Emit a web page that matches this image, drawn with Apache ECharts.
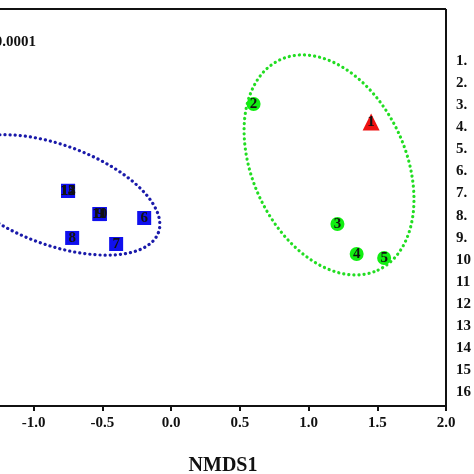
<!DOCTYPE html>
<html><head><meta charset="utf-8">
<script src="https://cdn.jsdelivr.net/npm/echarts@6/dist/echarts.min.js"></script>
<style>html,body{margin:0;padding:0;background:#fff}#c{width:474px;height:474px}</style>
</head><body><div id="c"></div>
<script>
const xTicks=[-1.0,-0.5,0.0,0.5,1.0,1.5,2.0];
const triNames=['1'];
const triX=[1.455];
const triY=[0.815];
const circNames=['2','3','4','5'];
const circX=[0.60,1.21,1.35,1.55];
const circY=[0.946,0.074,-0.145,-0.174];
const sqNames=['6','7','8','9','10','11','12','13','14','15'];
const sqX=[-0.196,-0.40,-0.72,-0.52,-0.52,-0.52,-0.75,-0.75,-0.75,-0.75];
const sqY=[0.117,-0.072,-0.028,0.146,0.146,0.146,0.314,0.314,0.314,0.314];
const legendItems=['1.','2.','3.','4.','5.','6.','7.','8.','9.','10','11','12','13','14','15','16'];
// ellipses: [cx, cy, semi-major, semi-minor, angle deg]
const greenEllipse=[1.149,0.503,0.844,0.557,-65];
const blueEllipse=[-0.844,0.285,0.80,0.364,-20];
const labelOffsets={'1':[-12,-9],'2':[18,-8],'3':[10,-14],'4':[-14,0],'5':[14,-10],'6':[-12,-9],'7':[13,-3],'8':[-13,-3],'9':[13,2],'10':[0,-14],'11':[-12,3],'12':[16,-4],'13':[0,-14],'14':[-6,17],'15':[-15,3]};
const font='"Liberation Serif","Times New Roman",serif';
function pts(names,xs,ys){return names.map((n,i)=>({name:n,value:[xs[i],ys[i]],label:{offset:labelOffsets[n]}}));}
function ell(p,color){
  return {type:'custom',silent:true,z:1,data:[p],clip:true,
    renderItem:function(params,api){
      const cx=api.value(0),cy=api.value(1),a=api.value(2),b=api.value(3),t=api.value(4)*Math.PI/180;
      const points=[];
      for(let k=0;k<=120;k++){const u=k/120*2*Math.PI;
        const x=cx+a*Math.cos(u)*Math.cos(t)-b*Math.sin(u)*Math.sin(t);
        const y=cy+a*Math.cos(u)*Math.sin(t)+b*Math.sin(u)*Math.cos(t);
        points.push(api.coord([x,y]));}
      return {type:'polyline',shape:{points:points},style:{stroke:color,lineWidth:3.2,lineDash:[0.1,5],lineCap:'round',fill:null}};
    }};
}
const lbl={show:true,position:'inside',color:'#111',fontFamily:font,fontWeight:'bold',fontSize:15,formatter:p=>p.name};
const chart=echarts.init(document.getElementById('c'));
const graphics=[{type:'text',x:36,y:42,style:{text:'P = 0.0001',font:'bold 15px '+font,fill:'#111',align:'right',verticalAlign:'middle'}}];
legendItems.forEach((t,i)=>graphics.push({type:'text',x:456,y:61+i*22.1,style:{text:t,font:'bold 15px '+font,fill:'#111',verticalAlign:'middle'}}));
chart.setOption({
  animation:false,
  grid:{left:0,right:28,top:9,bottom:68,containLabel:false,outerBoundsMode:'none'},
  xAxis:{type:'value',min:-1.245,max:2.0,
    name:'NMDS1',nameLocation:'middle',nameGap:50,nameTextStyle:{fontFamily:font,fontWeight:'bold',fontSize:20,color:'#111'},
    axisLine:{onZero:false,lineStyle:{color:'#111',width:2}},axisTick:{length:5,customValues:xTicks,lineStyle:{color:'#111',width:2}},
    axisLabel:{customValues:xTicks,fontFamily:font,fontWeight:'bold',fontSize:15,color:'#111',margin:10,formatter:v=>v.toFixed(1)},splitLine:{show:false}},
  yAxis:{type:'value',min:-1.25,max:1.637,axisLine:{show:false},axisTick:{show:false},axisLabel:{show:false},splitLine:{show:false}},
  graphic:graphics.concat([
    {type:'line',shape:{x1:0,y1:9,x2:446,y2:9},style:{stroke:'#111',lineWidth:2}},
    {type:'line',shape:{x1:446,y1:9,x2:446,y2:406},style:{stroke:'#111',lineWidth:2}}]),
  series:[
    ell(greenEllipse,'#22dd22'),
    ell(blueEllipse,'#1a1aaa'),
    {type:'scatter',symbol:'triangle',symbolSize:17,itemStyle:{color:'#ee1111',opacity:1},label:lbl,labelLayout:{hideOverlap:false},data:pts(triNames,triX,triY),z:3},
    {type:'scatter',symbol:'circle',symbolSize:14,itemStyle:{color:'#11ee11',opacity:1},label:lbl,labelLayout:{hideOverlap:false},data:pts(circNames,circX,circY),z:3},
    {type:'scatter',symbol:'rect',symbolSize:14,itemStyle:{color:'#1010ee',opacity:1},label:lbl,labelLayout:{hideOverlap:false},data:pts(sqNames,sqX,sqY),z:3}
  ]
});
</script></body></html>
